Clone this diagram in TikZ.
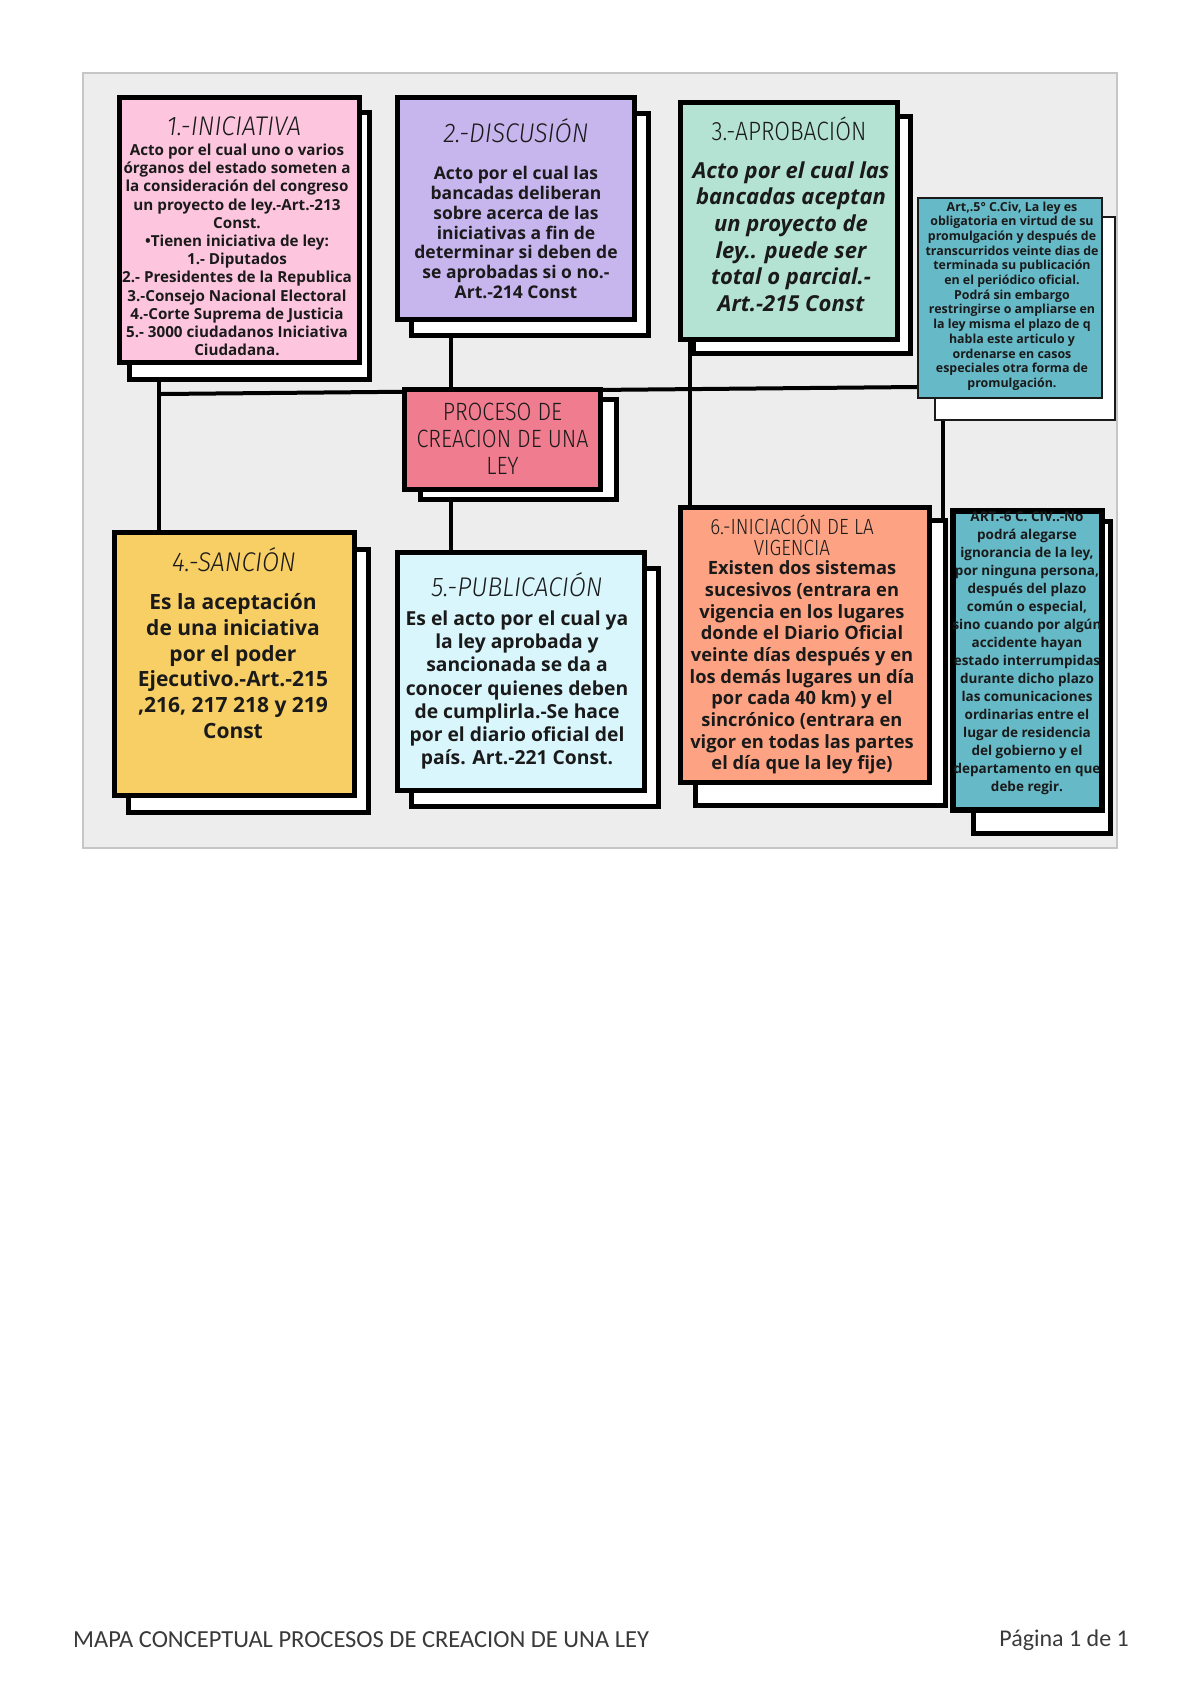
\documentclass[tikz,border=0pt]{standalone}
\usepackage{fontspec}
\setmainfont{Open Sans}
\newfontfamily\handfont[FakeStretch=0.86]{Fira Sans Light}
\newfontfamily\handitfont[FakeStretch=0.92]{Fira Sans Light Italic}
\newfontfamily\footfont{Carlito}
\usetikzlibrary{positioning,backgrounds}

\definecolor{panelgray}{HTML}{EDEDED}
\definecolor{panelline}{HTML}{C6C6C6}
\definecolor{inkblack}{HTML}{1A1A1A}
\definecolor{footgray}{HTML}{3A3A3A}
\definecolor{pinkcard}{HTML}{FDC6DE}
\definecolor{lilaccard}{HTML}{C7B5EE}
\definecolor{mintcard}{HTML}{B5E3D3}
\definecolor{tealcard}{HTML}{66B9C7}
\definecolor{rosecard}{HTML}{EF7D8F}
\definecolor{yellowcard}{HTML}{F8CF64}
\definecolor{skycard}{HTML}{D9F6FC}
\definecolor{salmoncard}{HTML}{FDA383}

\tikzset{
  card/.style={draw=black, line width=5pt, inner sep=0pt, shape=rectangle},
  backcard/.style={card, fill=white},
  thincard/.style={draw=inkblack, line width=1.5pt, inner sep=0pt, shape=rectangle},
  heading/.style={font=\handitfont\fontsize{27}{30}\selectfont, inner sep=0pt, text=inkblack, align=center},
  blurb/.style={align=center, inner sep=0pt, text=inkblack},
  link/.style={draw=black, line width=4pt},
}

\begin{document}
\begin{tikzpicture}[x=1pt, y=-1pt]
  \useasboundingbox (0,0) rectangle (1200,1698);

  \begin{scope}[on background layer]
    \fill[white] (0,0) rectangle (1200,1698);
    \draw[fill=panelgray, draw=panelline, line width=2pt] (83,73) rectangle (1117,848);
  \end{scope}

  % shadow cards
  \node[backcard, minimum width=240pt, minimum height=267pt] (s1) at (249.5,246) {};
  \node[backcard, minimum width=237pt, minimum height=222pt] (s2) at (530,224.5) {};
  \node[backcard, minimum width=217pt, minimum height=237pt] (s3) at (802,235) {};
  \node[backcard, minimum width=196pt, minimum height=100pt] (sc) at (518.5,449.5) {};
  \node[backcard, minimum width=240pt, minimum height=263pt] (s4) at (248.5,681) {};
  \node[backcard, minimum width=247pt, minimum height=238pt] (s5) at (535,687.5) {};
  \node[backcard, minimum width=250pt, minimum height=285pt] (s6) at (820.5,663) {};
  \node[thincard, fill=white, minimum width=180pt, minimum height=203pt] (s7) at (1025,318.5) {};
  \node[backcard, minimum width=137pt, minimum height=312pt] (s8) at (1041.5,677.5) {};

  % front cards
  \node[card, fill=pinkcard, minimum width=240pt, minimum height=265pt] (f1) at (239.5,230) {};
  \node[card, fill=lilaccard, minimum width=237pt, minimum height=222pt] (f2) at (516,208.5) {};
  \node[card, fill=mintcard, minimum width=217pt, minimum height=237pt] (f3) at (789,221) {};
  \node[card, fill=rosecard, minimum width=196pt, minimum height=100pt] (fc) at (502.5,439.5) {};
  \node[card, fill=yellowcard, minimum width=240pt, minimum height=263pt] (f4) at (234.5,664) {};
  \node[card, fill=skycard, minimum width=247pt, minimum height=238pt] (f5) at (521,671.5) {};
  \node[card, fill=salmoncard, minimum width=249pt, minimum height=275pt] (f6) at (805,645) {};
  \node[thincard, fill=tealcard, minimum width=184pt, minimum height=200pt] (f7) at (1010,298) {};
  \node[card, line width=6pt, fill=tealcard, minimum width=149pt, minimum height=299pt] (f8) at (1027.5,660.5) {};

  % texts
  \node[heading] (h1) at (234,126) {1.-INICIATIVA};
  \node[blurb, font=\bfseries\fontsize{15.2}{18.2}\selectfont] (b1) at (237,250) {Acto por el cual uno o varios\\
    órganos del estado someten a\\ la consideración del congreso\\ un proyecto de ley.-Art.-213\\ Const.\\
    •Tienen iniciativa de ley:\\ 1.- Diputados\\ 2.- Presidentes de la Republica\\ 3.-Consejo Nacional Electoral\\
    4.-Corte Suprema de Justicia\\ 5.- 3000 ciudadanos Iniciativa\\ Ciudadana.};

  \node[heading] (h2) at (516,131) {2.-DISCUSIÓN};
  \node[blurb, font=\bfseries\fontsize{17.5}{19.8}\selectfont] (b2) at (516,232.5) {Acto por el cual las\\
    bancadas deliberan\\ sobre acerca de las\\ iniciativas a fin de\\ determinar si deben de\\
    se aprobadas si o no.-\\ Art.-214 Const};

  \node[heading, font=\handfont\fontsize{26.5}{30}\selectfont] (h3) at (789,129) {3.-APROBACIÓN};
  \node[blurb, font=\bfseries\itshape\fontsize{22}{26.6}\selectfont] (b3) at (791,236.5) {Acto por el cual las\\
    bancadas aceptan\\ un proyecto de\\ ley.. puede ser\\ total o parcial.-\\ Art.-215 Const};

  \node[blurb, font=\bfseries\fontsize{12.4}{14.7}\selectfont] (b7) at (1012,296) {Art,.5° C.Civ, La ley es\\
    obligatoria en virtud de su\\ promulgación y después de\\ transcurridos veinte dias de\\
    terminada su publicación\\ en el periódico oficial.\\ Podrá sin embargo\\ restringirse o ampliarse en\\
    la ley misma el plazo de q\\ habla este articulo y\\ ordenarse en casos\\ especiales otra forma de\\ promulgación.};

  \node[heading, font=\handfont\fontsize{25}{27}\selectfont] (hc) at (502.5,439) {PROCESO DE\\ CREACION DE UNA\\ LEY};

  \node[heading] (h4) at (234,560) {4.-SANCIÓN};
  \node[blurb, font=\bfseries\fontsize{21}{25.7}\selectfont] (b4) at (233,666) {Es la aceptación\\
    de una iniciativa\\ por el poder\\ Ejecutivo.-Art.-215\\ ,216, 217 218 y 219\\ Const};

  \node[heading] (h5) at (517,585) {5.-PUBLICACIÓN};
  \node[blurb, font=\bfseries\fontsize{19.3}{23.3}\selectfont] (b5) at (517,690) {Es el acto por el cual ya\\
    la ley aprobada y\\ sancionada se da a\\ conocer quienes deben\\ de cumplirla.-Se hace\\
    por el diario oficial del\\ país. Art.-221 Const.};

  \node[heading, font=\handfont\fontsize{22}{21.5}\selectfont] (h6) at (792,535.5) {6.-INICIACIÓN DE LA\\ VIGENCIA};
  \node[blurb, font=\bfseries\fontsize{18.3}{21.7}\selectfont] (b6) at (802,667.5) {Existen dos sistemas\\
    sucesivos (entrara en\\ vigencia en los lugares\\ donde el Diario Oficial\\ veinte días después y en\\
    los demás lugares un día\\ por cada 40 km) y el\\ sincrónico (entrara en\\ vigor en todas las partes\\
    el día que la ley fije)};

  \node[blurb, font=\bfseries\fontsize{13.5}{18}\selectfont] (b8) at (1027,653) {ART.-6 C. CIV..-No\\
    podrá alegarse\\ ignorancia de la ley,\\ por ninguna persona,\\ después del plazo\\ común o especial,\\
    sino cuando por algún\\ accidente hayan\\ estado interrumpidas\\ durante dicho plazo\\
    las comunicaciones\\ ordinarias entre el\\ lugar de residencia\\ del gobierno y el\\
    departamento en que\\ debe regir.};

  % connectors
  \begin{scope}[on background layer]
    \coordinate (hstart) at (161,394);
    \draw[link] (s1.south -| 159,0) -- (f4.north -| 159,0);
    \draw[link] (hstart) -- (f7.west |- 0,387);
    \draw[link] (s2.south -| 451,0) -- (fc.north -| 451,0);
    \draw[link] (sc.south -| 451,0) -- (f5.north -| 451,0);
    \draw[link] (f3.south -| 690,0) -- (f6.north -| 690,0);
    \draw[link] (s7.south -| 943,0) -- (s6.north -| 943,0);
  \end{scope}

  % footer
  \node[font=\footfont\fontsize{24.5}{26}\selectfont, text=footgray, anchor=west, inner sep=0pt] (foot) at (73,1640)
    {MAPA CONCEPTUAL PROCESOS DE CREACION DE UNA LEY};
  \node[font=\footfont\fontsize{24}{26}\selectfont, text=footgray, anchor=east, inner sep=0pt] (page) at (1129,1640)
    {Página 1 de 1};
\end{tikzpicture}
\end{document}
